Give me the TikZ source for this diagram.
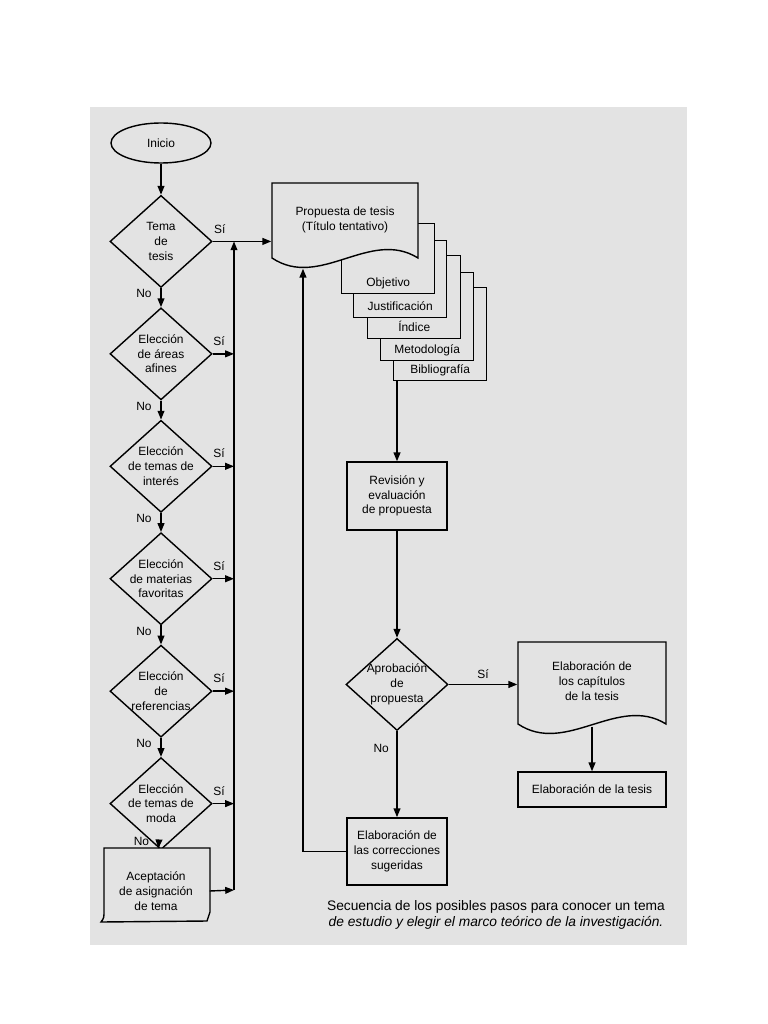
\documentclass[tikz,border=0pt]{standalone}
\usepackage{fontspec}
\setmainfont{Liberation Sans}
\usetikzlibrary{shapes.geometric, arrows.meta, positioning}

\definecolor{hoja}{gray}{0.89}

\begin{document}
\begin{tikzpicture}[
    x=0.025cm, y=-0.025cm,
    line width=1pt,
    node distance=0.475cm and 0.5cm,
    every node/.style={font=\fontsize{8.5}{10.5}\selectfont},
    inicio/.style={ellipse, draw, fill=hoja, minimum width=2.5cm, minimum height=1cm},
    decision/.style={diamond, draw, fill=hoja, align=center, inner sep=-5pt, minimum width=2.55cm, minimum height=2.3cm},
    proceso/.style={rectangle, draw, fill=hoja, align=center, minimum width=2.5cm, minimum height=1.7cm},
    hojita/.style={rectangle, draw, fill=hoja, inner sep=0pt, minimum width=2.325cm, text depth=0.17cm, anchor=north west},
    texto/.style={align=center, inner sep=0pt},
    arr/.style={-{Triangle[length=2.2mm, width=1.7mm]}}
]

\useasboundingbox (0,0) rectangle (768,1024);
% fondo de la hoja escaneada
\fill[hoja] (90,107) rectangle (687,945);

% Columna izquierda: decisiones
\node[inicio] (inicio) at (161,143) {Inicio};
\node[decision, below=0.775cm of inicio] (tema) {Tema\\de\\tesis};
\node[decision, below=of tema] (areas) {Elección\\de áreas\\afines};
\node[decision, below=of areas] (interes) {Elección\\de temas de\\interés};
\node[decision, below=of interes] (materias) {Elección\\de materias\\favoritas};
\node[decision, below=of materias] (referencias) {Elección\\de\\referencias};
\node[decision, below=of referencias] (moda) {Elección\\de temas de\\moda};

% Aceptacion (hoja con esquina doblada)
\draw[fill=hoja] (104,848) -- (210,848) -- (210,912) -- (207,921) -- (101,922) .. controls (104,918) .. (104,910) -- cycle;
\node[texto, minimum width=2.65cm, minimum height=2.1cm] (aceptacion) at (156,891) {Aceptación\\de asignación\\de tema};

\coordinate (bus) at (234,890);

% Hojas de la propuesta
\node[hojita, text height=2.155cm] (biblio) at (393,287) {Bibliografía};
\node[hojita, text height=2.03cm] (metodo) at (380,272) {Metodología};
\node[hojita, text height=1.905cm] (indice) at (367,255) {Índice};
\node[hojita, text height=1.755cm] (justif) at (353,240) {Justificación};
\node[hojita, text height=1.58cm] (objetivo) at (341,223) {Objetivo};

\draw[fill=hoja] (272,183) -- (418,183) -- (418,258) .. controls +(-48,-30) and +(48,32) .. (272,258) -- cycle;
\node[texto, minimum width=3.65cm, minimum height=2.4cm] (propuesta) at (345,220) {Propuesta de tesis\\(Título tentativo)};

% Columna central
\node[proceso] (revision) at (397,496) {Revisión y\\evaluación\\de propuesta};
\node[decision, below=2.675cm of revision] (aprobacion) {Aprobación\\de\\propuesta};
\node[proceso, below=2.15cm of aprobacion, minimum height=1.675cm] (correcciones) {Elaboración de\\las correcciones\\sugeridas};

% Columna derecha
\draw[fill=hoja] (518,642) -- (666,642) -- (666,724) .. controls +(-48,-30) and +(48,32) .. (518,724) -- cycle;
\node[texto, minimum width=3.7cm, minimum height=2.25cm] (capitulos) at (592,681) {Elaboración de\\los capítulos\\de la tesis};
\node[proceso, minimum width=3.7cm, minimum height=0.875cm] (tesis) at (592,789.5) {Elaboración de la tesis};

% Pie
\node[align=center, font=\fontsize{9.8}{11.5}\selectfont] (pie) at (496,915) {Secuencia de los posibles pasos para conocer un tema\\\textit{de estudio y elegir el marco teórico de la investigación.}};

% Flechas
\draw[arr] (inicio) -- (tema);
\draw[arr] (tema) -- node[left, xshift=-1mm, pos=0.3] {No} (areas);
\draw[arr] (areas) -- node[left, xshift=-1mm, pos=0.3] {No} (interes);
\draw[arr] (interes) -- node[left, xshift=-1mm, pos=0.3] {No} (materias);
\draw[arr] (materias) -- node[left, xshift=-1mm, pos=0.3] {No} (referencias);
\draw[arr] (referencias) -- node[left, xshift=-1mm, pos=0.3] {No} (moda);
\draw[arr] (moda) -- node[left, xshift=-1mm, yshift=5pt] {No} (aceptacion);

\draw[arr] (tema.east) -- node[above, pos=0.12, yshift=2pt] {Sí} (tema.east -| propuesta.west);
\draw[arr] (areas.east) -- node[above, pos=0.3, yshift=2pt] {Sí} (areas.east -| bus);
\draw[arr] (interes.east) -- node[above, pos=0.3, yshift=2pt] {Sí} (interes.east -| bus);
\draw[arr] (materias.east) -- node[above, pos=0.3, yshift=2pt] {Sí} (materias.east -| bus);
\draw[arr] (referencias.east) -- node[above, pos=0.3, yshift=2pt] {Sí} (referencias.east -| bus);
\draw[arr] (moda.east) -- node[above, pos=0.3, yshift=2pt] {Sí} (moda.east -| bus);
\draw[arr] (aceptacion.east) -- (bus);
\draw[arr] (bus) -- (tema.east -| bus);

\draw[arr] (revision.north |- biblio.south) -- (revision.north);
\draw[arr] (revision) -- (aprobacion);
\draw[arr] (aprobacion) -- node[above] {Sí} (aprobacion.east -| capitulos.west);
\draw[arr] (aprobacion) -- node[left, pos=0.2, xshift=-2pt] {No} (correcciones);
\draw[arr] (capitulos.south) -- (tesis);
\draw[arr] (correcciones.west) -| ([xshift=-1.05cm]propuesta.south);

\end{tikzpicture}
\end{document}
